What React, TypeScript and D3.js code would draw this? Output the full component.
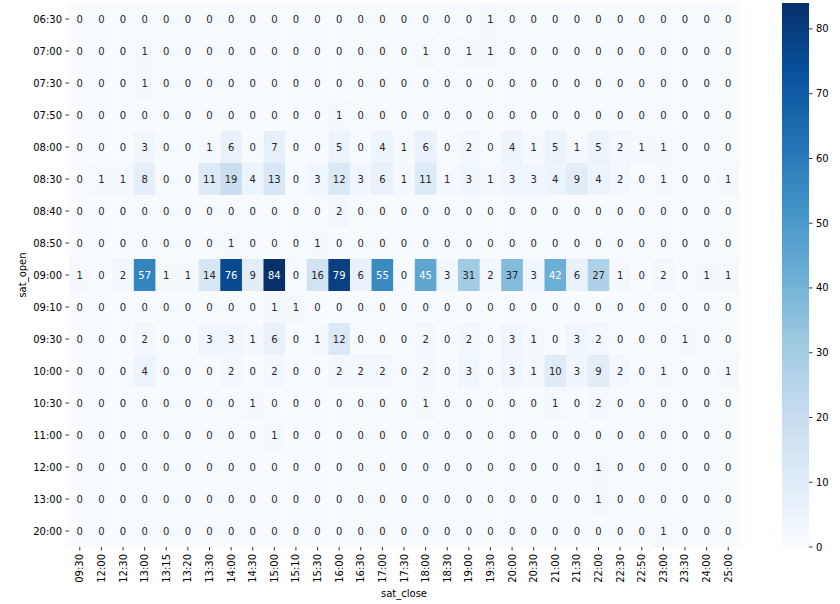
import React from "react";
import * as d3 from "d3";

const openTimes = ["06:30","07:00","07:30","07:50","08:00","08:30","08:40","08:50","09:00","09:10","09:30","10:00","10:30","11:00","12:00","13:00","20:00"];
const closeTimes = ["09:30","12:00","12:30","13:00","13:15","13:20","13:30","14:00","14:30","15:00","15:10","15:30","16:00","16:30","17:00","17:30","18:00","18:30","19:00","19:30","20:00","20:30","21:00","21:30","22:00","22:30","22:50","23:00","23:30","24:00","25:00"];

// counts[row][col]: rows follow openTimes, columns follow closeTimes
const counts: number[][] = [
  [0,0,0,0,0,0,0,0,0,0,0,0,0,0,0,0,0, 0,0,1,0,0,0,0,0,0,0,0,0,0,0],
  [0,0,0,1,0,0,0,0,0,0,0,0,0,0,0,0,1, 0,1,1,0,0,0,0,0,0,0,0,0,0,0],
  [0,0,0,1,0,0,0,0,0,0,0,0,0,0,0,0,0, 0,0,0,0,0,0,0,0,0,0,0,0,0,0],
  [0,0,0,0,0,0,0,0,0,0,0,0,1,0,0,0,0, 0,0,0,0,0,0,0,0,0,0,0,0,0,0],
  [0,0,0,3,0,0,1,6,0,7,0,0,5,0,4,1,6, 0,2,0,4,1,5,1,5,2,1,1,0,0,0],
  [0,1,1,8,0,0,11,19,4,13,0,3,12,3,6,1,11, 1,3,1,3,3,4,9,4,2,0,1,0,0,1],
  [0,0,0,0,0,0,0,0,0,0,0,0,2,0,0,0,0, 0,0,0,0,0,0,0,0,0,0,0,0,0,0],
  [0,0,0,0,0,0,0,1,0,0,0,1,0,0,0,0,0, 0,0,0,0,0,0,0,0,0,0,0,0,0,0],
  [1,0,2,57,1,1,14,76,9,84,0,16,79,6,55,0,45, 3,31,2,37,3,42,6,27,1,0,2,0,1,1],
  [0,0,0,0,0,0,0,0,0,1,1,0,0,0,0,0,0, 0,0,0,0,0,0,0,0,0,0,0,0,0,0],
  [0,0,0,2,0,0,3,3,1,6,0,1,12,0,0,0,2, 0,2,0,3,1,0,3,2,0,0,0,1,0,0],
  [0,0,0,4,0,0,0,2,0,2,0,0,2,2,2,0,2, 0,3,0,3,1,10,3,9,2,0,1,0,0,1],
  [0,0,0,0,0,0,0,0,1,0,0,0,0,0,0,0,1, 0,0,0,0,0,1,0,2,0,0,0,0,0,0],
  [0,0,0,0,0,0,0,0,0,1,0,0,0,0,0,0,0, 0,0,0,0,0,0,0,0,0,0,0,0,0,0],
  [0,0,0,0,0,0,0,0,0,0,0,0,0,0,0,0,0, 0,0,0,0,0,0,0,1,0,0,0,0,0,0],
  [0,0,0,0,0,0,0,0,0,0,0,0,0,0,0,0,0, 0,0,0,0,0,0,0,1,0,0,0,0,0,0],
  [0,0,0,0,0,0,0,0,0,0,0,0,0,0,0,0,0, 0,0,0,0,0,0,0,0,0,0,1,0,0,0],
];

const colorbarTicks = [0, 10, 20, 30, 40, 50, 60, 70, 80];

const bluesStops = ["#f7fbff","#deebf7","#c6dbef","#9ecae1","#6baed6","#4292c6","#2171b5","#08519c","#08306b"];

const W = 840, H = 604;
const plot = { left: 69, right: 739, top: 3, bottom: 547 };
const cbar = { left: 782, right: 809, top: 3, bottom: 547 };
const FONT = "DejaVu Sans, sans-serif";

function luminance(c: string) {
  const rgb = d3.rgb(c);
  const ch = [rgb.r, rgb.g, rgb.b].map((v) => {
    const s = v / 255;
    return s <= 0.03928 ? s / 12.92 : Math.pow((s + 0.055) / 1.055, 2.4);
  });
  return 0.2126 * ch[0] + 0.7152 * ch[1] + 0.0722 * ch[2];
}

export default function App() {
  const vmax = d3.max(counts.flat()) as number;
  const stopDomain = bluesStops.map((_, i) => (i / (bluesStops.length - 1)) * vmax);
  const color = d3.scaleLinear<string>().domain(stopDomain).range(bluesStops).interpolate(d3.interpolateRgb);

  const x = d3.scaleBand().domain(closeTimes).range([plot.left, plot.right]);
  const y = d3.scaleBand().domain(openTimes).range([plot.top, plot.bottom]);
  const cy = d3.scaleLinear().domain([0, vmax]).range([cbar.bottom, cbar.top]);

  return (
    <svg width={W} height={H} style={{ position: "absolute", left: 0, top: 0, background: "#fff" }} fontFamily={FONT}>
      <defs>
        <linearGradient id="cbar-grad" x1="0" y1="1" x2="0" y2="0">
          {bluesStops.map((c, i) => (
            <stop key={i} offset={i / (bluesStops.length - 1)} stopColor={c} />
          ))}
        </linearGradient>
      </defs>

      {counts.map((row, i) =>
        row.map((v, j) => {
          const fill = color(v);
          const xx = x(closeTimes[j]) as number;
          const yy = y(openTimes[i]) as number;
          return (
            <g key={`${i}-${j}`}>
              <rect x={xx} y={yy} width={x.bandwidth() + 0.5} height={y.bandwidth() + 0.5} fill={fill} />
              <text
                x={xx + x.bandwidth() / 2}
                y={yy + y.bandwidth() / 2}
                textAnchor="middle"
                dominantBaseline="central"
                fontSize={10}
                fill={luminance(fill) > 0.408 ? "#262626" : "#ffffff"}
              >
                {v}
              </text>
            </g>
          );
        })
      )}

      {/* y axis */}
      {openTimes.map((t) => {
        const yy = (y(t) as number) + y.bandwidth() / 2;
        return (
          <g key={t}>
            <line x1={plot.left - 3.5} x2={plot.left} y1={yy} y2={yy} stroke="#000" strokeWidth={0.8} />
            <text x={plot.left - 7} y={yy} textAnchor="end" dominantBaseline="central" fontSize={10} fill="#000">
              {t}
            </text>
          </g>
        );
      })}
      <text transform={`translate(22,${(plot.top + plot.bottom) / 2}) rotate(-90)`} textAnchor="middle" dominantBaseline="central" fontSize={10} fill="#000">
        sat_open
      </text>

      {/* x axis */}
      {closeTimes.map((t) => {
        const xx = (x(t) as number) + x.bandwidth() / 2;
        return (
          <g key={t}>
            <line x1={xx} x2={xx} y1={plot.bottom} y2={plot.bottom + 3.5} stroke="#000" strokeWidth={0.8} />
            <text
              transform={`translate(${xx},${plot.bottom + 7}) rotate(-90)`}
              textAnchor="end"
              dominantBaseline="central"
              fontSize={10}
              fill="#000"
            >
              {t}
            </text>
          </g>
        );
      })}
      <text x={(plot.left + plot.right) / 2} y={597} textAnchor="middle" fontSize={10} fill="#000">
        sat_close
      </text>

      {/* colorbar */}
      <rect x={cbar.left} y={cbar.top} width={cbar.right - cbar.left} height={cbar.bottom - cbar.top} fill="url(#cbar-grad)" />
      {colorbarTicks.map((t) => (
        <g key={t}>
          <line x1={cbar.right} x2={cbar.right + 3.5} y1={cy(t)} y2={cy(t)} stroke="#000" strokeWidth={0.8} />
          <text x={cbar.right + 7} y={cy(t)} dominantBaseline="central" fontSize={10} fill="#000">
            {t}
          </text>
        </g>
      ))}
    </svg>
  );
}
